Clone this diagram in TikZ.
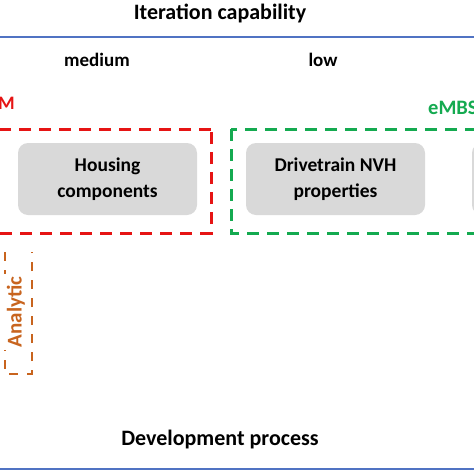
\documentclass[tikz,border=0pt]{standalone}
\usepackage{fontspec}
\setmainfont{Carlito}
\usetikzlibrary{positioning}
\definecolor{cred}{RGB}{230,20,20}
\definecolor{cgreen}{RGB}{20,170,80}
\definecolor{corange}{RGB}{200,100,30}
\definecolor{cblue}{RGB}{80,115,195}
\definecolor{cgray}{RGB}{217,217,217}
\begin{document}
\begin{tikzpicture}[x=1pt,y=-1pt,
  lbl/.style={font=\bfseries\fontsize{19}{22}\selectfont, inner sep=0pt},
  title/.style={font=\bfseries\fontsize{22}{26}\selectfont, inner sep=0pt},
  gbox/.style={fill=cgray, draw=none, rounded corners=10pt, align=center,
    font=\bfseries\fontsize{19.5}{26}\selectfont},
  dbox/.style={line width=3pt, dash pattern=on 12pt off 8pt},
  hline/.style={draw=cblue, line width=1.5pt}]
\useasboundingbox (0,0) rectangle (474,474);
\clip (0,0) rectangle (474,474);
\fill[white] (0,0) rectangle (474,474);
% titles
\node[title] (t1) at (220,13) {Iteration capability};
\node[title] (t2) at (220,440) {Development process};
\coordinate (l1a) at (0,37); \coordinate (l1b) at (474,37);
\coordinate (l2a) at (0,469); \coordinate (l2b) at (474,469);
\draw[hline] (l1a) -- (l1b);
\draw[hline] (l2a) -- (l2b);
% column labels
\node[lbl] (med) at (97,60) {medium};
\node[lbl] (low) at (323,60) {low};
% group labels
\node[lbl, text=cred, anchor=east] (fem) at (15,103) {FEM};
\node[lbl, text=cgreen, anchor=west, font=\bfseries\fontsize{20.5}{24}\selectfont] (embs) at (428,108) {eMBS};
% dashed groups
\draw[dbox, draw=cred] (211,129) -- (-20,129) (-20,233) -- (211,233) -- (211,129);
\draw[dbox, draw=cgreen] (231,129) rectangle (520,233);
% gray boxes
\node[gbox, minimum width=179pt, minimum height=72pt] (hc) at (107.5,179) {Housing\\components};
\node[gbox, minimum width=179pt, minimum height=72pt] (dn) at (335.5,179) {Drivetrain NVH\\properties};
\node[gbox, minimum width=179pt, minimum height=72pt] (nx) at (561.5,179) {};
% analytic
\draw[line width=2.5pt, draw=corange, dash pattern=on 9pt off 9pt] (5,252) -- (5,374) -- (32,374) -- (32,252);
\node[text=corange, rotate=90, fill=white, inner sep=3pt, font=\bfseries\fontsize{21}{24}\selectfont] (an) at (16,312) {Analytic};
\end{tikzpicture}
\end{document}
